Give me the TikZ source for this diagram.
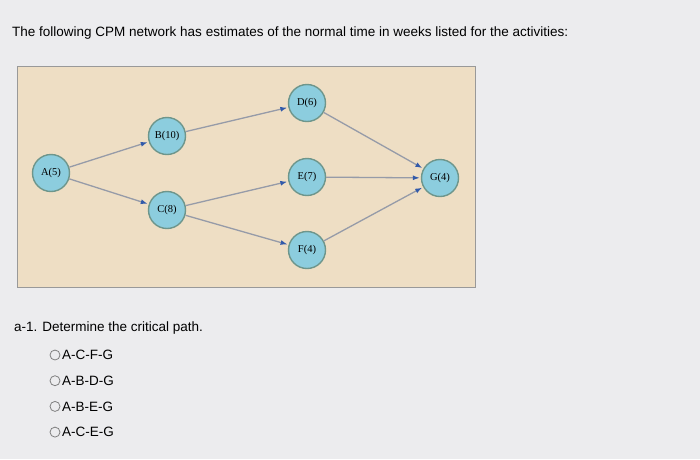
\documentclass[tikz,border=0pt]{standalone}
\usepackage{fontspec}
\setmainfont{Liberation Sans}
\newfontfamily\nodefont{Liberation Serif}
\usetikzlibrary{arrows.meta}
\definecolor{tan}{RGB}{238,222,196}
\definecolor{nodefill}{RGB}{140,205,222}
\definecolor{nodeline}{RGB}{110,150,140}
\definecolor{edge}{RGB}{150,155,168}
\definecolor{tip}{RGB}{50,90,170}
\definecolor{bg}{RGB}{236,236,238}
\begin{document}
\begin{tikzpicture}[x=1pt,y=-1pt,
  act/.style={circle,draw=nodeline,line width=1.4pt,fill=nodefill,minimum size=37pt,inner sep=0pt,font=\fontsize{10.5}{12}\selectfont\nodefont},
  edgearrow/.style={draw=edge,line width=1.3pt,-{Latex[length=7pt,width=5pt,color=tip]},shorten >=1pt},
  txt/.style={anchor=west,inner sep=0pt,font=\fontsize{13.5}{15}\selectfont},
  radio/.style={circle,draw=gray,line width=0.8pt,minimum size=10pt,inner sep=0pt}]
\useasboundingbox (0,0) rectangle (700,459);
\fill[bg] (0,0) rectangle (700,459);
\node[txt] (title) at (12,33) {The following CPM network has estimates of the normal time in weeks listed for the activities:};
\draw[draw=gray!80,fill=tan,line width=1pt] (17,66) rectangle (475,287);
\node[act] (A) at (51,173) {A(5)};
\node[act] (B) at (167,136) {B(10)};
\node[act] (C) at (167,210) {C(8)};
\node[act] (D) at (307,103) {D(6)};
\node[act] (E) at (307,177) {E(7)};
\node[act] (F) at (307,250) {F(4)};
\node[act] (G) at (440,178) {G(4)};
\foreach \a/\b in {A/B,A/C,B/D,C/E,C/F,D/G,E/G,F/G} \draw[edgearrow] (\a) -- (\b);
\node[txt] (q) at (14,328) {a-1. Determine the critical path.};
\foreach \i/\t in {0/A-C-F-G,1/A-B-D-G,2/A-B-E-G,3/A-C-E-G}{
  \node[radio] (r\i) at (55,355+25.7*\i) {};
  \node[txt] (o\i) at (62,355+25.7*\i) {\t};
}
\end{tikzpicture}
\end{document}
